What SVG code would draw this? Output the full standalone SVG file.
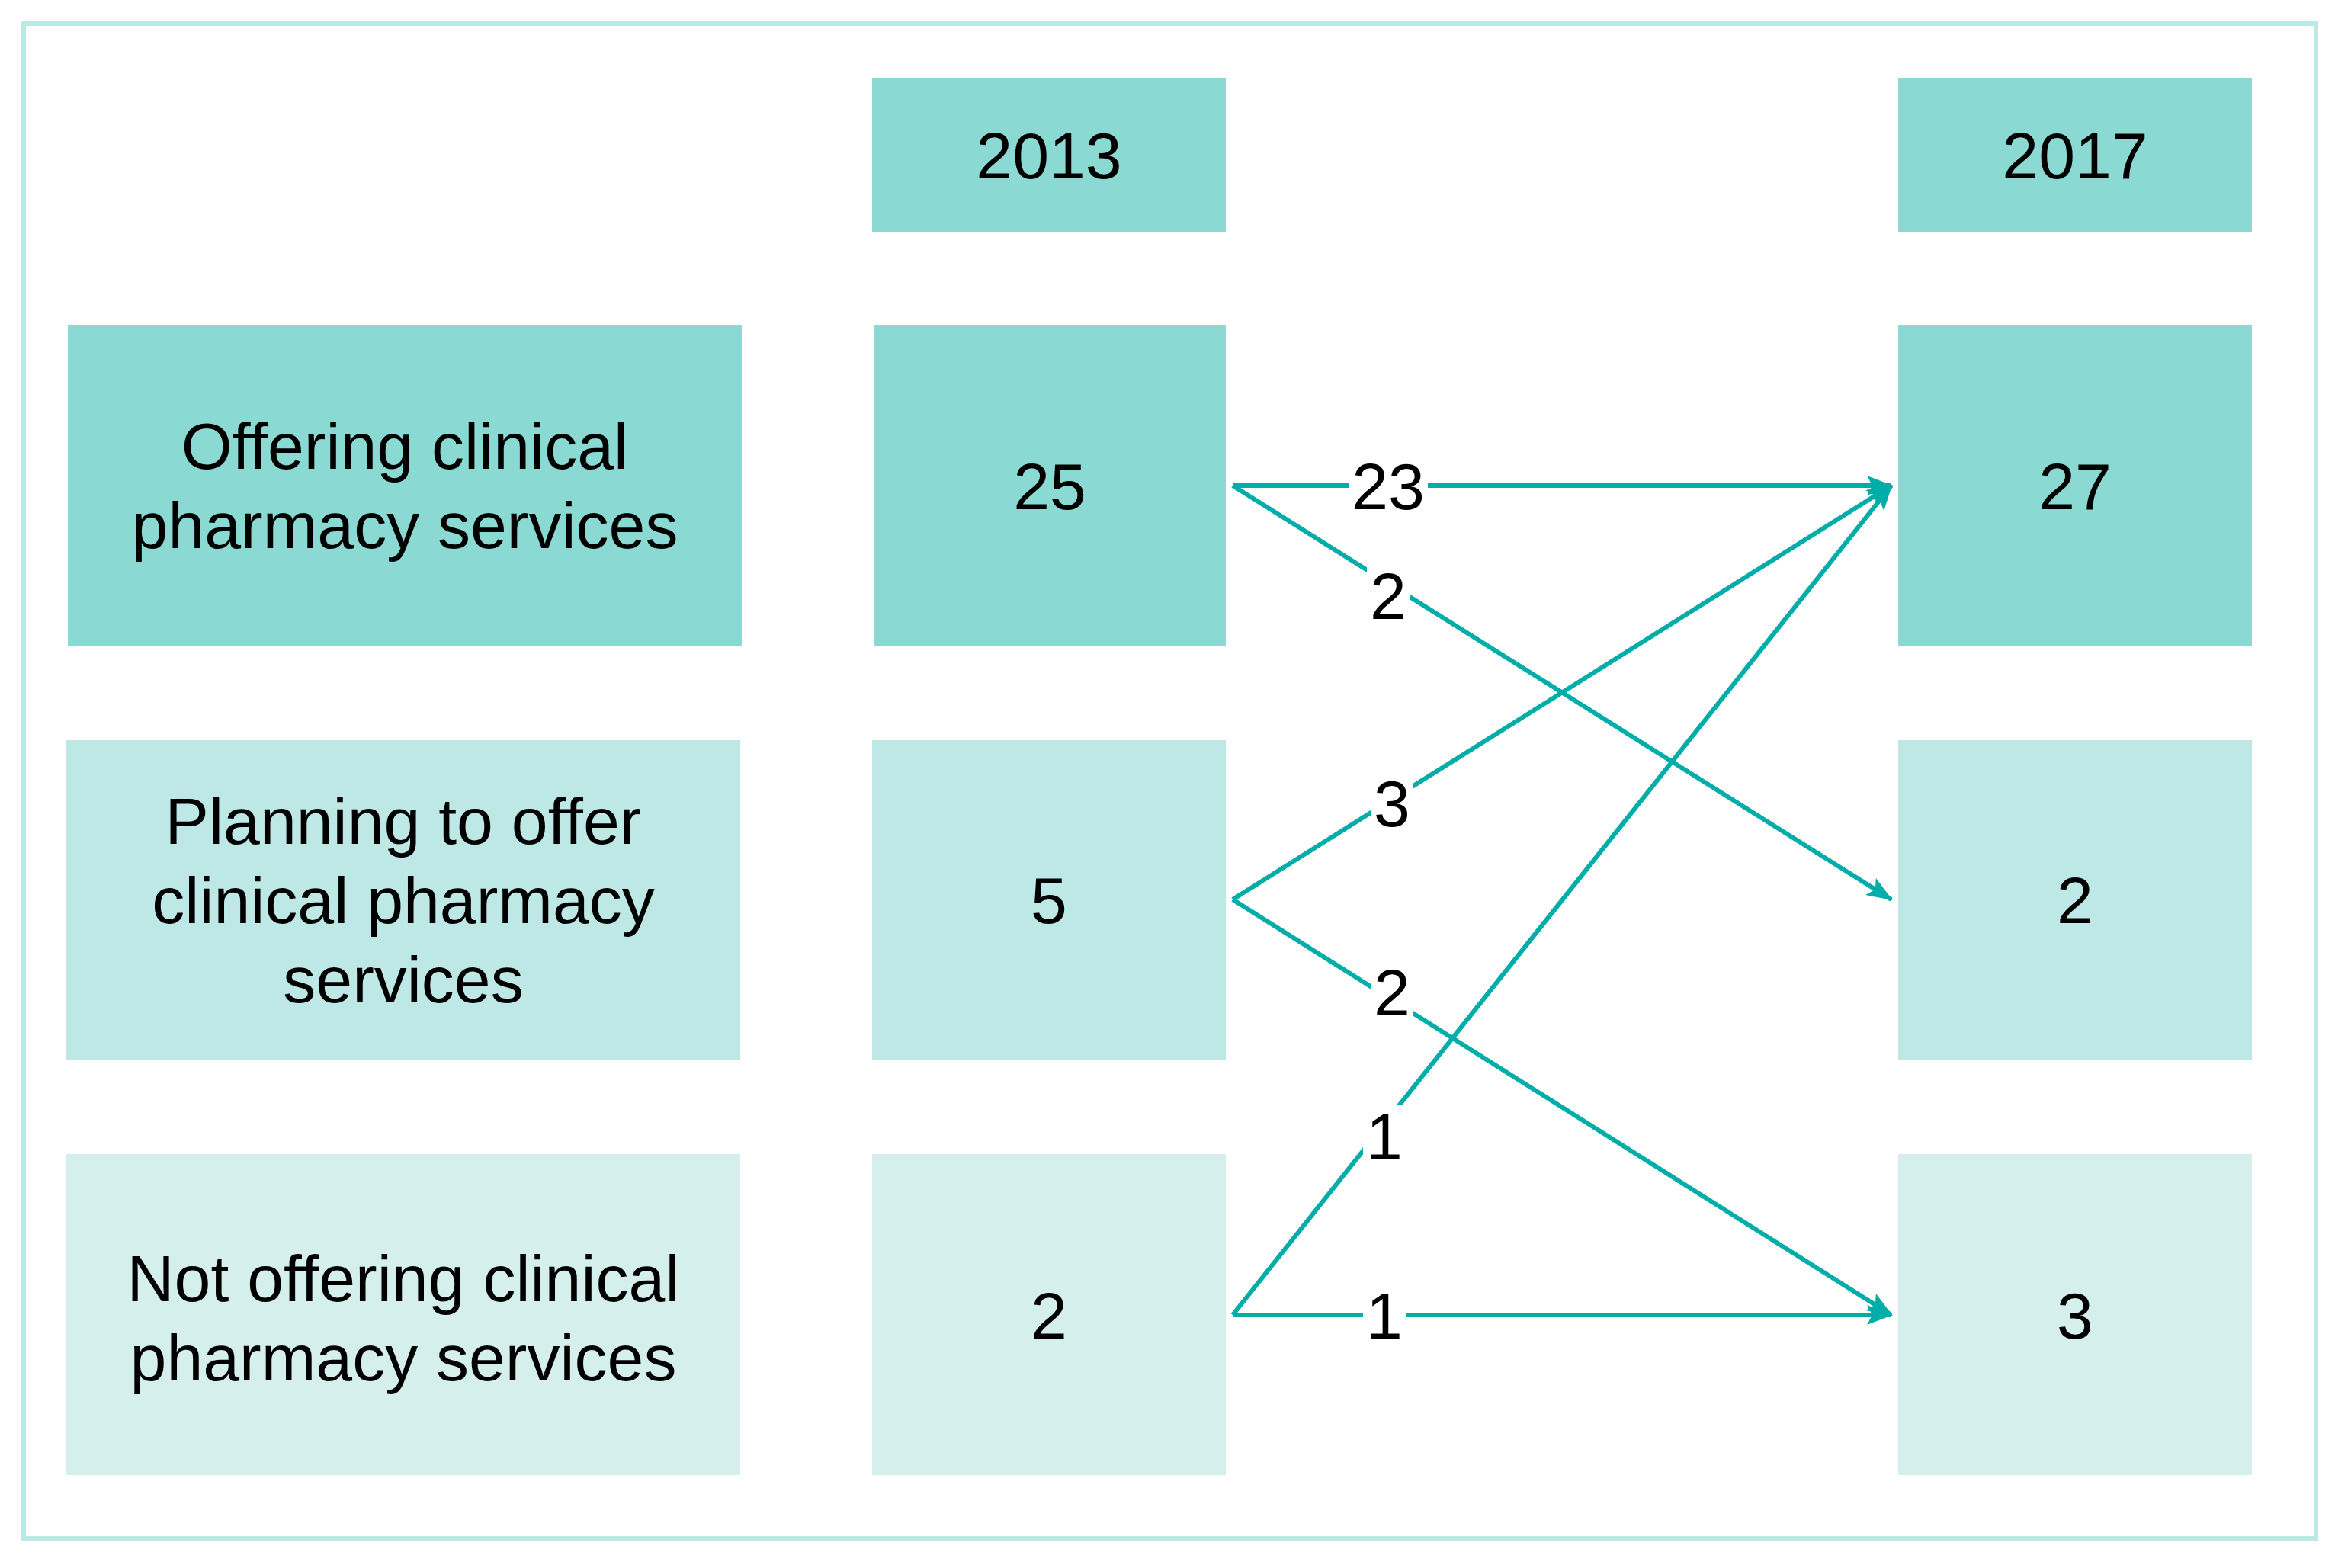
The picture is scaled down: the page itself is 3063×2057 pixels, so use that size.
<svg xmlns="http://www.w3.org/2000/svg" width="3063" height="2057" viewBox="0 0 3063 2057">
<style>
text{font-family:"Liberation Sans",Arial,sans-serif;font-size:86px;fill:#000;text-anchor:middle}
.d{fill:#8BD9D3}.m{fill:#BEE8E5}.l{fill:#D4EFEC}
.e{stroke:#00ADA8;stroke-width:6;fill:none;marker-end:url(#ah)}
.bg{fill:#fff}
</style>
<defs>
<marker id="ah" markerUnits="userSpaceOnUse" markerWidth="34" markerHeight="26" viewBox="0 0 34 26" refX="32" refY="13" orient="auto">
<path d="M0,0 L34,13 L0,26 L7,13 z" fill="#00ADA8"/>
</marker>
</defs>
<rect x="0" y="0" width="3063" height="2057" fill="#fff"/>
<rect x="31" y="31" width="3007" height="1987" fill="none" stroke="#BDE8E4" stroke-width="6"/>
<g id="h2013"><rect class="d" x="1144" y="102" width="464" height="202"/><text x="1376" y="234">2013</text></g>
<g id="h2017"><rect class="d" x="2490" y="102" width="464" height="202"/><text x="2722" y="234">2017</text></g>
<g id="lab1"><rect class="d" x="89" y="427" width="884" height="420"/><text x="531" y="615">Offering clinical</text><text x="531" y="719">pharmacy services</text></g>
<g id="lab2"><rect class="m" x="87" y="971" width="884" height="419"/><text x="529" y="1107">Planning to offer</text><text x="529" y="1211">clinical pharmacy</text><text x="529" y="1315">services</text></g>
<g id="lab3"><rect class="l" x="87" y="1514" width="884" height="421"/><text x="529" y="1707">Not offering clinical</text><text x="529" y="1811">pharmacy services</text></g>
<g id="a1"><rect class="d" x="1146" y="427" width="462" height="420"/><text x="1377" y="668">25</text></g>
<g id="a2"><rect class="m" x="1144" y="971" width="464" height="419"/><text x="1376" y="1211">5</text></g>
<g id="a3"><rect class="l" x="1144" y="1514" width="464" height="421"/><text x="1376" y="1756">2</text></g>
<g id="b1"><rect class="d" x="2490" y="427" width="464" height="420"/><text x="2722" y="668">27</text></g>
<g id="b2"><rect class="m" x="2490" y="971" width="464" height="419"/><text x="2722" y="1211">2</text></g>
<g id="b3"><rect class="l" x="2490" y="1514" width="464" height="421"/><text x="2722" y="1756">3</text></g>
<g id="connectors">
<line class="e" x1="1617" y1="637" x2="2481" y2="637"/>
<line class="e" x1="1617" y1="637" x2="2481" y2="1180"/>
<line class="e" x1="1617" y1="1180" x2="2481" y2="637"/>
<line class="e" x1="1617" y1="1180" x2="2481" y2="1725"/>
<line class="e" x1="1617" y1="1725" x2="2481" y2="637"/>
<line class="e" x1="1617" y1="1725" x2="2481" y2="1725"/>
<rect class="bg" x="1769" y="597" width="104" height="80"/><text x="1821" y="668">23</text>
<rect class="bg" x="1793" y="741" width="56" height="80"/><text x="1821" y="812">2</text>
<rect class="bg" x="1798" y="1013" width="56" height="80"/><text x="1826" y="1084">3</text>
<rect class="bg" x="1798" y="1261" width="56" height="80"/><text x="1826" y="1332">2</text>
<rect class="bg" x="1788" y="1450" width="56" height="80"/><text x="1816" y="1521">1</text>
<rect class="bg" x="1788" y="1685" width="56" height="80"/><text x="1816" y="1756">1</text>
</g>
</svg>
